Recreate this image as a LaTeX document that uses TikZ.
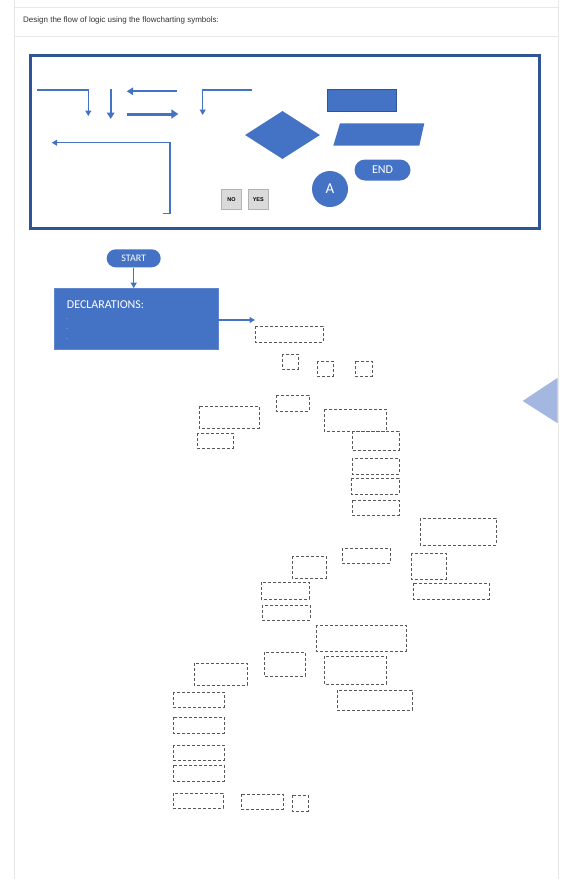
\documentclass[tikz,border=0pt]{standalone}
\usepackage{fontspec}
\setmainfont{Liberation Sans}
\newfontfamily\calibri{Carlito}
\usetikzlibrary{arrows.meta,shapes.geometric,positioning}
\definecolor{shapeblue}{HTML}{4472C4}
\definecolor{frameblue}{HTML}{2F5597}
\definecolor{paleblue}{HTML}{A3B7E1}
\definecolor{slotgray}{HTML}{595959}
\definecolor{pagegray}{HTML}{E8E8E8}
\definecolor{keygray}{HTML}{DADADA}
\definecolor{titlegray}{HTML}{333333}

\begin{document}
\begin{tikzpicture}[x=1pt,y=-1pt,
    thinflow/.style={draw=shapeblue,line width=1.4pt,-{Triangle[length=5.5pt,width=6pt]}},
    midflow/.style={draw=shapeblue,line width=2.2pt,-{Triangle[length=6.5pt,width=7.5pt]}},
    thickflow/.style={draw=shapeblue,line width=3pt,-{Triangle[length=7pt,width=9pt]}},
    term/.style={fill=shapeblue,text=white,inner sep=0pt,font=\calibri},
    keybox/.style={fill=keygray,draw=gray!60,inner sep=0pt,minimum width=20pt,
        minimum height=20pt,font=\bfseries\fontsize{5.5}{6}\selectfont},
    slot/.style={draw=slotgray,line width=0.8pt,dash pattern=on 3pt off 2pt}]

    \useasboundingbox (0,0) rectangle (586,879);

    % the page
    \draw[pagegray,line width=1pt] (14,0) -- (14,879) (558,0) -- (558,879);
    \draw[pagegray,line width=1pt] (14,7) -- (558,7) (14,36) -- (558,36);
    \node[anchor=base west,inner sep=0pt,text=titlegray,
        font=\fontsize{8}{9}\selectfont] (title) at (23,22.7)
        {Design the flow of logic using the flowcharting symbols:};

    % the symbols
    \draw[frameblue,line width=3.5pt] (30.5,55.5) rectangle (539.5,228.5);

    \draw[thinflow] (37.3,90) -- (88.3,90) -- (88.3,116);
    \draw[midflow] (110.7,89) -- (110.7,119);
    \draw[midflow] (176.7,91.3) -- (126.7,91.3);
    \draw[thickflow] (126.7,114) -- (178.3,114);
    \draw[thinflow] (252.3,90) -- (202.7,90) -- (202.7,115);
    \draw[thinflow] (162.7,213.3) -- (170,213.3) -- (170,142.7) -- (51.7,142.7);

    \node[diamond,fill=shapeblue,inner sep=0pt,minimum width=75pt,
        minimum height=48pt] (decision) at (282.5,135) {};
    \node[fill=shapeblue,draw=frameblue,line width=0.8pt,inner sep=0pt,
        minimum width=69pt,minimum height=22pt] (process) at (362,100.5) {};
    \fill[shapeblue] (340,123.3) -- (424.3,123.3) -- (419.3,145.7)
        -- (333.3,145.7) -- cycle;
    \node[term,rounded corners=10.5pt,minimum width=56pt,minimum height=21pt,
        font=\calibri\fontsize{12}{12}\selectfont] (end) at (382.5,170) {END};
    \node[term,circle,minimum size=36pt,
        font=\calibri\fontsize{15}{15}\selectfont] (conn) at (330,189) {A};
    \node[keybox] (no) at (231.5,199.3) {NO};
    \node[keybox] (yes) at (258.3,199.3) {YES};

    % the flowchart
    \node[term,rounded corners=9pt,minimum width=54pt,minimum height=18pt,
        font=\calibri\fontsize{10}{10}\selectfont] (start) at (133.7,258.3) {START};
    \node[fill=shapeblue,draw=shapeblue!85!white,inner sep=0pt,
        minimum width=164pt,minimum height=61pt] (decl) at (136.2,318.8) {};
    \node[anchor=west,inner sep=0pt,text=white,
        font=\calibri\fontsize{12}{12}\selectfont] (decltext) at (66.7,304.3)
        {DECLARATIONS:};
    \foreach \y in {319,329.3,339.3}
        \node[inner sep=0pt,text=white!70!shapeblue,
            font=\fontsize{7}{7}\selectfont] at (67,\y) {.};
    \coordinate (declout) at (255,320);

    \draw[thinflow] (start.south) -- (start.south |- decl.north);
    \draw[thinflow] (decl.east |- declout) -- (declout);

    % the empty slots
    \foreach \xa/\ya/\xb/\yb in {255/326/323/342, 282/354/298/369,
        317/361/333/376, 355/361/372/376, 276/395/309/411, 199/406/259/428,
        197/433/233/448, 324/409/386/431, 352/431/399/450, 352/458/399/474,
        351/478/399/494, 352/500/399/515, 420/518/496/545, 342/548/390/563,
        411/553/446/579, 413/583/489/599, 292/556/326/578, 261/582/309/599,
        262/605/310/620, 316/625/406/651, 264/652/305/676, 324/656/386/684,
        194/663/247/685, 337/690/412/710, 173/692/224/707, 173/717/224/733,
        173/745/224/760, 173/765/224/781, 173/793/223/808, 241/794/283/809,
        292/795/308/811}
        \draw[slot] (\xa,\ya) rectangle (\xb,\yb);

    \fill[paleblue] (522.7,401) -- (557.7,377.7) -- (557.7,423.3) -- cycle;
\end{tikzpicture}
\end{document}
